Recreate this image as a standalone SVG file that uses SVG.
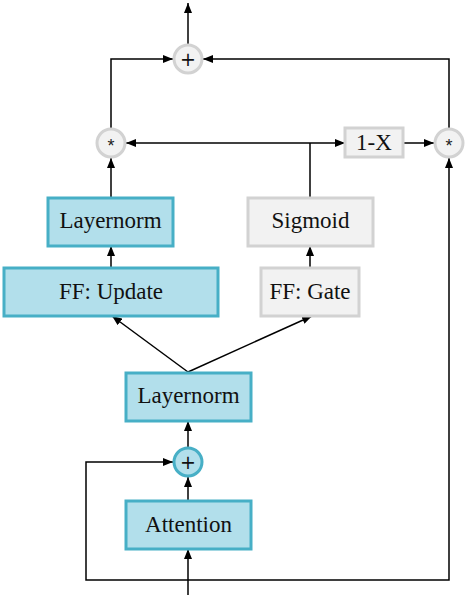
<svg xmlns="http://www.w3.org/2000/svg" width="468" height="595" viewBox="0 0 468 595">
<defs>
<marker id="ah" viewBox="0 0 10 8" refX="10" refY="4" markerWidth="10" markerHeight="8" markerUnits="userSpaceOnUse" orient="auto">
<path d="M0,0 L10,4 L0,8 z" fill="#000"/>
</marker>
</defs>
<style>
.blue{fill:#b2dfeb;stroke:#47afc6;stroke-width:3}
.gray{fill:#f2f2f2;stroke:#d2d2d2;stroke-width:3}
.t{font-family:'Liberation Serif','Times New Roman',serif;font-size:23px;fill:#111;text-anchor:middle}
.op{font-family:'DejaVu Sans',sans-serif;font-size:19px;fill:#111;text-anchor:middle}
.st{font-family:'Liberation Sans',Arial,sans-serif;font-size:18px;fill:#222;text-anchor:middle}
.c path{fill:none;stroke:#000;stroke-width:1.5;marker-end:url(#ah)}
.c path.n{marker-end:none}
</style>
<rect width="468" height="595" fill="#fff"/>
<g id="connectors" class="c">
<path d="M188,44 V3"/>
<path d="M111,128 V59 H173"/>
<path d="M449,128 V59 H203"/>
<path class="n" d="M310,198 V143"/>
<path d="M310,143 H126"/>
<path d="M310,143 H345"/>
<path d="M403,143 H434"/>
<path d="M111,198 V158"/>
<path d="M111,267 V246"/>
<path d="M310,267 V246"/>
<path d="M188,372 L112,316"/>
<path d="M188,372 L312,316"/>
<path d="M188,447 V421"/>
<path d="M188,501 V477"/>
<path d="M188,595 V549"/>
<path d="M188,580 H86 V462 H173"/>
<path d="M188,580 H449 V158"/>
</g>
<g id="plus-top"><circle class="gray" cx="188" cy="59" r="14"/><text class="op" x="188" y="66">+</text></g>
<g id="mul-left"><circle class="gray" cx="111" cy="143" r="14"/><text class="st" x="111" y="152">*</text></g>
<g id="mul-right"><circle class="gray" cx="449" cy="143" r="14"/><text class="st" x="449" y="152">*</text></g>
<g id="one-minus-x"><rect class="gray" x="345" y="128" width="58" height="29"/><text class="t" x="374" y="150">1-X</text></g>
<g id="layernorm-top"><rect class="blue" x="48" y="198" width="125" height="48"/><text class="t" x="110.5" y="228">Layernorm</text></g>
<g id="sigmoid"><rect class="gray" x="248" y="198" width="125" height="48"/><text class="t" x="310.5" y="228">Sigmoid</text></g>
<g id="ff-update"><rect class="blue" x="4" y="268" width="214" height="48"/><text class="t" x="111" y="299">FF: Update</text></g>
<g id="ff-gate"><rect class="gray" x="261" y="268" width="98" height="48"/><text class="t" x="310" y="299">FF: Gate</text></g>
<g id="layernorm-bottom"><rect class="blue" x="126" y="373" width="125" height="48"/><text class="t" x="188.5" y="403">Layernorm</text></g>
<g id="plus-bottom"><circle class="blue" cx="188" cy="462" r="14"/><text class="op" x="188" y="469">+</text></g>
<g id="attention"><rect class="blue" x="126" y="501" width="125" height="48"/><text class="t" x="188.5" y="532">Attention</text></g>
</svg>
